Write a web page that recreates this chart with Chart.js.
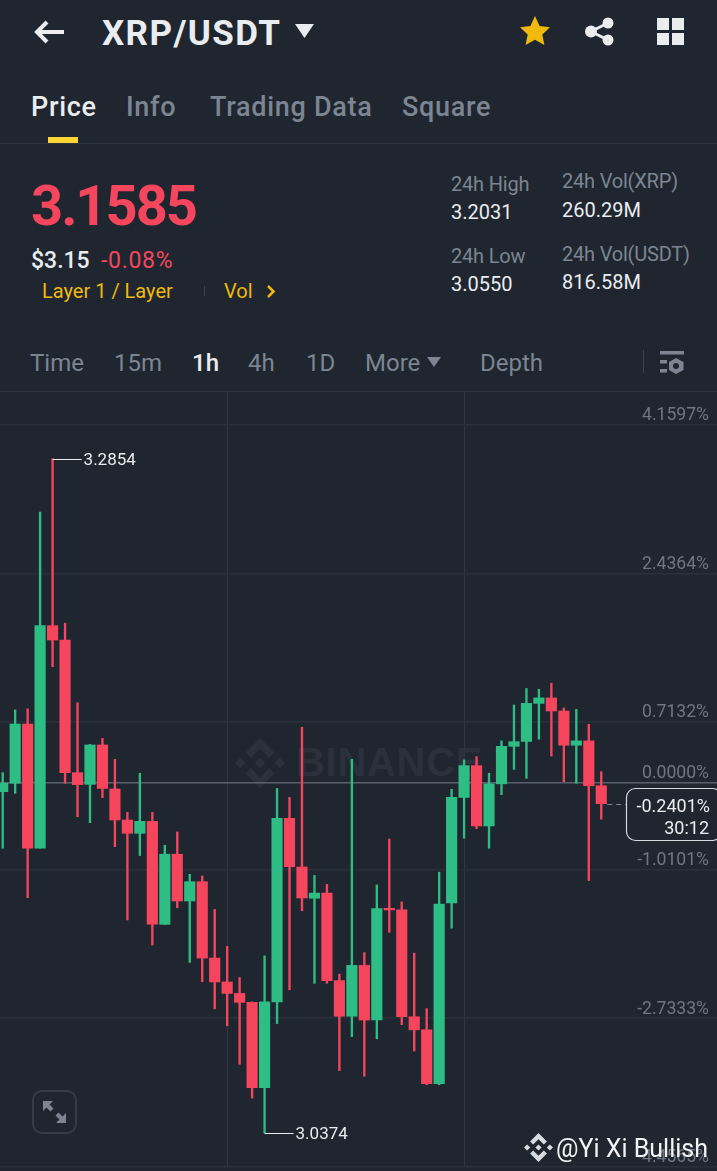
<!DOCTYPE html>
<html>
<head>
<meta charset="utf-8">
<title>XRP/USDT</title>
<script src="https://cdn.jsdelivr.net/npm/chart.js@4/dist/chart.umd.min.js"></script>
<style>
  html, body { margin: 0; padding: 0; background: #1f2630; }
  body { width: 717px; height: 1171px; position: relative; overflow: hidden; font-family: Roboto, sans-serif; }
  .t { position: absolute; white-space: nowrap; transform: translateY(-50%); line-height: 1; }
  .gray { color: #7c8591; }
  .white { color: #eaecef; }
  .red { color: #f6465d; }
  .yellow { color: #f0b90b; }
  .tab { font-size: 27px; font-weight: 500; letter-spacing: 0.7px; }
  .sub { font-size: 20px; letter-spacing: -0.2px; }
  .val { font-size: 20px; color: #eaecef; }
  .range { font-size: 24px; }
  .line { position: absolute; background: #2e343e; }
  svg { position: absolute; }
  #wrap { position: absolute; left: 0; top: 0; width: 717px; height: 1171px; z-index: 2; }
  #mark { position: absolute; z-index: 1; left: 296px; top: 740px; font-size: 40px; font-weight: 700; color: #2a313c; font-family: "Liberation Sans", sans-serif; letter-spacing: 0.7px; }
  .top { z-index: 3; }
</style>
</head>
<body>

<!-- header -->
<svg style="left:33px;top:18px" width="34" height="28" viewBox="0 0 34 28"><path d="M31 14H5M14 4L4 14l10 10" fill="none" stroke="#eaecef" stroke-width="4"/></svg>
<div class="t white" style="left:102px;top:33px;font-size:35px;font-weight:700;letter-spacing:1.4px;">XRP/USDT</div>
<svg style="left:295px;top:24px" width="19" height="14"><path d="M0 0h19L9.5 14z" fill="#eaecef"/></svg>
<svg style="left:519px;top:15px" width="32" height="32" viewBox="0 0 32 32"><path d="M16 1l4.6 10 10.4 1.2-7.7 7.2 2.1 10.6L16 24.700l-9.400 5.300 2.100-10.600L1 12.200 11.400 11z" fill="#f0b90b"/></svg>
<svg style="left:584px;top:16px" width="31" height="31" viewBox="0 0 31 31"><path d="M24 7L7 15.500 24 24" fill="none" stroke="#eaecef" stroke-width="3"/><circle cx="24" cy="7" r="5.500" fill="#eaecef"/><circle cx="7" cy="15.500" r="6" fill="#eaecef"/><circle cx="24" cy="24" r="5.500" fill="#eaecef"/></svg>
<svg style="left:657px;top:18px" width="27" height="27"><path d="M0 0h12v12H0zM15 0h12v12H15zM0 15h12v12H0zM15 15h12v12H15z" fill="#eaecef"/></svg>

<div class="t tab white" style="left:31px;top:107px;">Price</div>
<div class="t tab gray" style="left:126px;top:107px;">Info</div>
<div class="t tab gray" style="left:210px;top:107px;">Trading Data</div>
<div class="t tab gray" style="left:402px;top:107px;">Square</div>
<div class="line" style="left:48px;top:137px;width:30px;height:6px;background:#fcd535;"></div>
<div class="line" style="left:0;top:143px;width:717px;height:1px;"></div>

<div class="t red" style="left:31px;top:206px;font-size:56px;font-weight:700;letter-spacing:-2px;">3.1585</div>
<div class="t white" style="left:31px;top:260px;font-size:23px;font-weight:500;">$3.15</div>
<div class="t red" style="left:101px;top:260px;font-size:23px;letter-spacing:0.7px;">-0.08%</div>
<div class="t yellow" style="left:42px;top:291px;font-size:20px;">Layer 1 / Layer</div>
<div class="line" style="left:204px;top:286px;width:1px;height:10px;background:#3c424c;"></div>
<div class="t yellow" style="left:224px;top:291px;font-size:20px;">Vol</div>
<svg style="left:266px;top:285px" width="10" height="13"><path d="M2 1l5.500 5.500L2 12" fill="none" stroke="#f0b90b" stroke-width="2.500"/></svg>

<div class="t gray sub" style="left:451px;top:184px;">24h High</div>
<div class="t val" style="left:451px;top:212px;">3.2031</div>
<div class="t gray sub" style="left:451px;top:256px;">24h Low</div>
<div class="t val" style="left:451px;top:284px;">3.0550</div>
<div class="t gray sub" style="left:562px;top:181px;">24h Vol(XRP)</div>
<div class="t val" style="left:562px;top:210px;">260.29M</div>
<div class="t gray sub" style="left:562px;top:254px;">24h Vol(USDT)</div>
<div class="t val" style="left:562px;top:282px;">816.58M</div>

<div class="t gray range" style="left:30px;top:363px;">Time</div>
<div class="t gray range" style="left:114px;top:363px;">15m</div>
<div class="t white range" style="left:192px;top:363px;font-weight:500;">1h</div>
<div class="t gray range" style="left:248px;top:363px;">4h</div>
<div class="t gray range" style="left:306px;top:363px;">1D</div>
<div class="t gray range" style="left:365px;top:363px;">More</div>
<svg style="left:427px;top:357px" width="14" height="10"><path d="M0 0h14L7 10z" fill="#7c8591"/></svg>
<div class="t gray range" style="left:480px;top:363px;">Depth</div>
<div class="line" style="left:643px;top:350px;width:1px;height:23px;background:#3c424c;"></div>
<svg style="left:660px;top:351px" width="25" height="24" viewBox="0 0 25 24"><path d="M0 0h24v3.500H0zM0 9h7v3.500H0zM0 18h7v3.500H0z" fill="#7c8591"/><path d="M16 7l7.500 4v8l-7.500 4-7-4v-8z" fill="#7c8591"/><circle cx="16" cy="15" r="3" fill="#1f2630"/></svg>

<!-- watermark under the candles -->
<svg style="left:235px;top:738px;z-index:1" width="50" height="50" viewBox="2.700 2.700 18.600 18.600"><path d="M8.600 10.100L12 6.700l3.400 3.400 2-2L12 2.700 6.600 8.100zM2.700 12l2-2 2 2-2 2zM8.600 13.900L12 17.300l3.400-3.400 2 2L12 21.300l-5.400-5.400zM17.300 12l2-2 2 2-2 2zM14 12l-2-2-2 2 2 2z" fill="#2a313c"/></svg>
<div id="mark">BINANCE</div>

<div id="wrap"><canvas id="chart" width="717" height="1171"></canvas></div>

<!-- overlays -->
<svg class="top" style="left:32px;top:1090px" width="45" height="44" viewBox="0 0 45 44"><rect x="1" y="1" width="43" height="42" rx="9" fill="none" stroke="#363c46" stroke-width="2"/><path d="M11 11h10l-3.500 3.500 4 4-3 3-4-4L11 21zM34 33H24l3.500-3.500-4-4 3-3 4 4L34 23z" fill="#7c8591"/></svg>
<svg class="top" style="left:524px;top:1133px;z-index:3" width="29" height="29" viewBox="2.700 2.700 18.600 18.600"><path d="M8.600 10.100L12 6.700l3.400 3.400 2-2L12 2.700 6.600 8.100zM2.700 12l2-2 2 2-2 2zM8.600 13.900L12 17.300l3.400-3.400 2 2L12 21.300l-5.400-5.400zM17.300 12l2-2 2 2-2 2zM14 12l-2-2-2 2 2 2z" fill="#d8dade"/></svg>
<div class="t top" style="left:556px;top:1148px;font-size:25px;color:#f2f3f5;">@Yi Xi Bullish</div>

<script>
// Candles
const opens = [3.1629,3.1660,3.1878,3.1421,3.2240,3.2187,3.1699,3.1656,3.1801,3.1639,3.1525,3.1476,3.1520,3.1141,3.1399,3.1227,3.1298,3.1017,3.0929,3.0887,3.0854,3.0540,3.0856,3.1531,3.1352,3.1237,3.1256,3.0934,3.0803,3.0990,3.0789,3.1200,3.1194,3.0801,3.0753,3.0555,3.1220,3.1608,3.1725,3.1503,3.1658,3.1796,3.1814,3.1954,3.1974,3.1926,3.1800,3.1816,3.1651];
const highs = [3.1699,3.1930,3.1934,3.2658,3.2854,3.2249,3.1956,3.1803,3.1825,3.1748,3.1553,3.1697,3.1553,3.1432,3.1481,3.1325,3.1319,3.1196,3.1060,3.0945,3.0856,3.1025,3.1641,3.1608,3.1866,3.1321,3.1288,3.0958,3.1748,3.1037,3.1286,3.1455,3.1224,3.1035,3.0831,3.1333,3.1638,3.1746,3.1758,3.1697,3.1816,3.1948,3.2009,3.2006,3.2028,3.1937,3.1932,3.1877,3.1703];
const lows = [3.1421,3.1623,3.1239,3.1421,3.2089,3.1660,3.1537,3.1515,3.1607,3.1427,3.1157,3.1394,3.1065,3.1141,3.1202,3.1001,3.0930,3.0830,3.0768,3.0626,3.0502,3.0374,3.0776,3.0900,3.1191,3.0924,3.0924,3.0603,3.0728,3.0582,3.0720,3.1112,3.0772,3.0675,3.0551,3.0551,3.1127,3.1458,3.1493,3.1421,3.1618,3.1711,3.1678,3.1822,3.1760,3.1666,3.1660,3.1302,3.1528];
const closes = [3.1660,3.1878,3.1421,3.2240,3.2187,3.1699,3.1655,3.1801,3.1641,3.1525,3.1476,3.1520,3.1142,3.1399,3.1227,3.1298,3.1017,3.0929,3.0887,3.0854,3.0540,3.0856,3.1531,3.1353,3.1238,3.1256,3.0934,3.0803,3.0990,3.0789,3.1199,3.1194,3.0801,3.0753,3.0555,3.1216,3.1608,3.1725,3.1503,3.1658,3.1796,3.1813,3.1954,3.1974,3.1926,3.1800,3.1816,3.1651,3.1585];

// Right axis
const basePrice = 3.1661;
const axisPercents = [4.1597, 2.4364, 0.7132, 0, -1.0101, -2.7333, -4.4565];
const axisLabels = ['4.1597%', '2.4364%', '0.7132%', '0.0000%', '-1.0101%', '-2.7333%', '-4.4565%'];
const verticalLines = [18, 37];

const lastPercent = '-0.2401%';
const lastCountdown = '30:12';

const UP = '#2ebd85';
const DOWN = '#f6465d';
const colorOf = ctx => closes[ctx.dataIndex] >= opens[ctx.dataIndex] ? UP : DOWN;

// axes take no room and ask for no extra padding
const noRoom = s => {
  if (s.isHorizontal()) s.height = 0; else s.width = 0;
  s.paddingTop = s.paddingBottom = s.paddingLeft = s.paddingRight = 0;
};

// high, low and last price notes
const notesPlugin = {
  id: 'notes',
  afterDatasetsDraw(chart) {
    const { ctx, scales: { x, y } } = chart;
    ctx.save();
    ctx.font = '17px Roboto, sans-serif';
    ctx.textBaseline = 'middle';

    const hi = highs.indexOf(Math.max(...highs));
    const lo = lows.indexOf(Math.min(...lows));
    [[hi, highs[hi]], [lo, lows[lo]]].forEach(([i, price]) => {
      const px = x.getPixelForValue(i);
      const py = Math.round(y.getPixelForValue(price)) + 0.5;
      ctx.strokeStyle = '#eaecef';
      ctx.lineWidth = 1;
      ctx.beginPath();
      ctx.moveTo(px, py);
      ctx.lineTo(px + 29, py);
      ctx.stroke();
      ctx.fillStyle = '#eaecef';
      ctx.textAlign = 'left';
      ctx.fillText(price.toFixed(4), px + 31, py + 1);
    });

    // last price tag
    const last = closes.length - 1;
    const ly = Math.round(y.getPixelForValue(closes[last])) + 0.5;
    ctx.strokeStyle = '#7c8591';
    ctx.setLineDash([5, 4]);
    ctx.beginPath();
    ctx.moveTo(x.getPixelForValue(last) + 6, ly);
    ctx.lineTo(627, ly);
    ctx.stroke();
    ctx.setLineDash([]);

    ctx.fillStyle = '#1f2630';
    ctx.strokeStyle = '#d5d8dc';
    ctx.lineWidth = 1.2;
    ctx.beginPath();
    ctx.roundRect(626.5, 788.5, 95, 52, 9);
    ctx.fill();
    ctx.stroke();

    ctx.font = '18px Roboto, sans-serif';
    ctx.fillStyle = '#eaecef';
    ctx.textAlign = 'right';
    ctx.fillText(lastPercent, 710, 807);
    ctx.fillText(lastCountdown, 709, 829);
    ctx.restore();
  }
};

new Chart(document.getElementById('chart'), {
  type: 'bar',
  data: {
    datasets: [
      {
        data: highs.map((h, i) => ({ x: i, y: [lows[i], h] })),
        backgroundColor: colorOf,
        barThickness: 1.7,
        grouped: false
      },
      {
        data: opens.map((o, i) => ({ x: i, y: [o, closes[i]] })),
        backgroundColor: colorOf,
        barThickness: 10.5,
        grouped: false
      }
    ]
  },
  options: {
    responsive: false,
    animation: false,
    devicePixelRatio: 1,
    layout: { autoPadding: false, padding: { top: 392, bottom: 5, left: 0, right: 0 } },
    plugins: { legend: { display: false }, tooltip: { enabled: false } },
    scales: {
      x: {
        type: 'linear',
        offset: false,
        min: -0.2165,
        max: 57.2815,
        afterBuildTicks: s => { s.ticks = verticalLines.map(v => ({ value: v })); },
        ticks: { display: false },
        grid: { offset: false, color: '#303641', drawTicks: false },
        border: { display: false },
        afterFit: noRoom
      },
      y: {
        position: 'right',
        min: 3.0252,
        max: 3.30995,
        afterBuildTicks: s => { s.ticks = axisPercents.map(p => ({ value: basePrice * (1 + p / 100) })); },
        afterFit: noRoom,
        ticks: {
          mirror: true,
          autoSkip: false,
          padding: -8,
          labelOffset: -9,
          color: '#6f7682',
          font: { family: 'Roboto, sans-serif', size: 17.6 },
          callback: (v, i) => axisLabels[i]
        },
        grid: {
          drawTicks: false,
          lineWidth: 1.5,
          color: ctx => axisPercents[ctx.index] === 0 ? '#5b616c' : '#2a303a'
        },
        border: { display: false }
      }
    }
  },
  plugins: [notesPlugin]
});
</script>
<div class="line" style="left:0;top:391px;width:717px;height:1px;z-index:1;"></div>
</body>
</html>
